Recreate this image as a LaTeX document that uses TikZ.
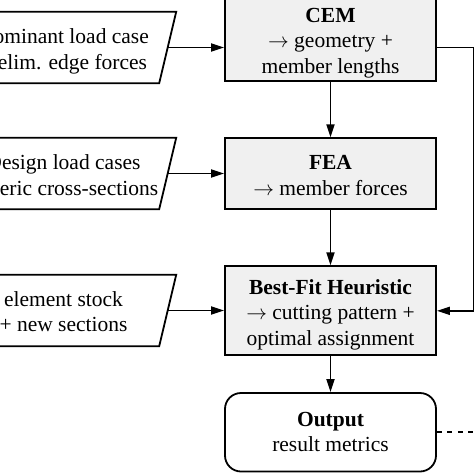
\documentclass[tikz,border=0pt]{standalone}
\usepackage{fontspec}
\setmainfont{Liberation Serif}
\usetikzlibrary{arrows.meta}
\tikzset{
  txt/.style={align=center, inner sep=0pt, font={\fontsize{21.5pt}{25.5pt}\selectfont}},
  procbox/.style={txt, rectangle, draw, line width=1.8pt, fill=black!6, minimum width=211pt},
  outbox/.style={txt, rectangle, draw, line width=1.8pt, rounded corners=16pt, minimum width=211pt},
  inbox/.style={txt, rectangle, minimum width=225pt, minimum height=71pt},
  shapeline/.style={draw, line width=1.8pt},
  arr/.style={line width=1.8pt, -{Triangle[length=13pt,width=8pt]}},
  dashline/.style={line width=1.8pt, dash pattern=on 5pt off 5.5pt}
}
\newcommand{\topstrut}[1]{\rule{0pt}{#1}}
\newcommand{\botstrut}[1]{\rule[-#1]{0pt}{#1}}
\begin{document}
\begin{tikzpicture}[x=1pt,y=-1pt]
\useasboundingbox (0,0) rectangle (474,474);
\clip (0,0) rectangle (474,474);
% input parallelograms
\node[inbox] (p1) at (63.5,47.5) {\topstrut{31.5pt}Dominant load case\\ prelim. edge forces\botstrut{14pt}};
\node[inbox] (p2) at (63.5,173.5) {\topstrut{31.5pt}Design load cases\\ generic cross-sections\botstrut{14pt}};
\node[inbox] (p3) at (63.5,310.5) {\topstrut{31pt}element stock\\ + new sections\botstrut{14.5pt}};
\foreach \p in {p1,p2,p3}{
  \draw[shapeline] ([xshift=17pt]\p.north west) -- (\p.north east) -- ([xshift=-17pt]\p.south east) -- (\p.south west) -- cycle;
}
% process boxes
\node[procbox] (CEM) at (330.5,37) {\topstrut{29pt}\textbf{CEM}\\ $\rightarrow$ geometry +\\ member lengths\botstrut{8pt}};
\node[procbox] (FEA) at (330.5,173.8) {\topstrut{31.5pt}\textbf{FEA}\\ $\rightarrow$ member forces\botstrut{14pt}};
\node[procbox] (BF) at (330.5,310.8) {\topstrut{28pt}\textbf{Best-Fit Heuristic}\\ $\rightarrow$ cutting pattern +\\ optimal assignment\botstrut{10pt}};
\node[outbox] (OUT) at (330.5,432.25) {\topstrut{33pt}\textbf{Output}\\ result metrics\botstrut{20pt}};
% connectors
\draw[arr] ([xshift=-8.5pt]p1.east) -- (CEM.west |- p1.east);
\draw[arr] ([xshift=-8.5pt]p2.east) -- (FEA.west |- p2.east);
\draw[arr] ([xshift=-8.5pt]p3.east) -- (BF.west |- p3.east);
\draw[arr] (CEM.east |- p1.east) -- ++(37.3,0) |- (BF.east);
\draw[arr] (CEM.south) -- (FEA.north);
\draw[arr] (FEA.south) -- (BF.north);
\draw[arr] (BF.south) -- (OUT.north);
\draw[dashline] (OUT.east) -- ++(45,0);
\end{tikzpicture}
\end{document}
